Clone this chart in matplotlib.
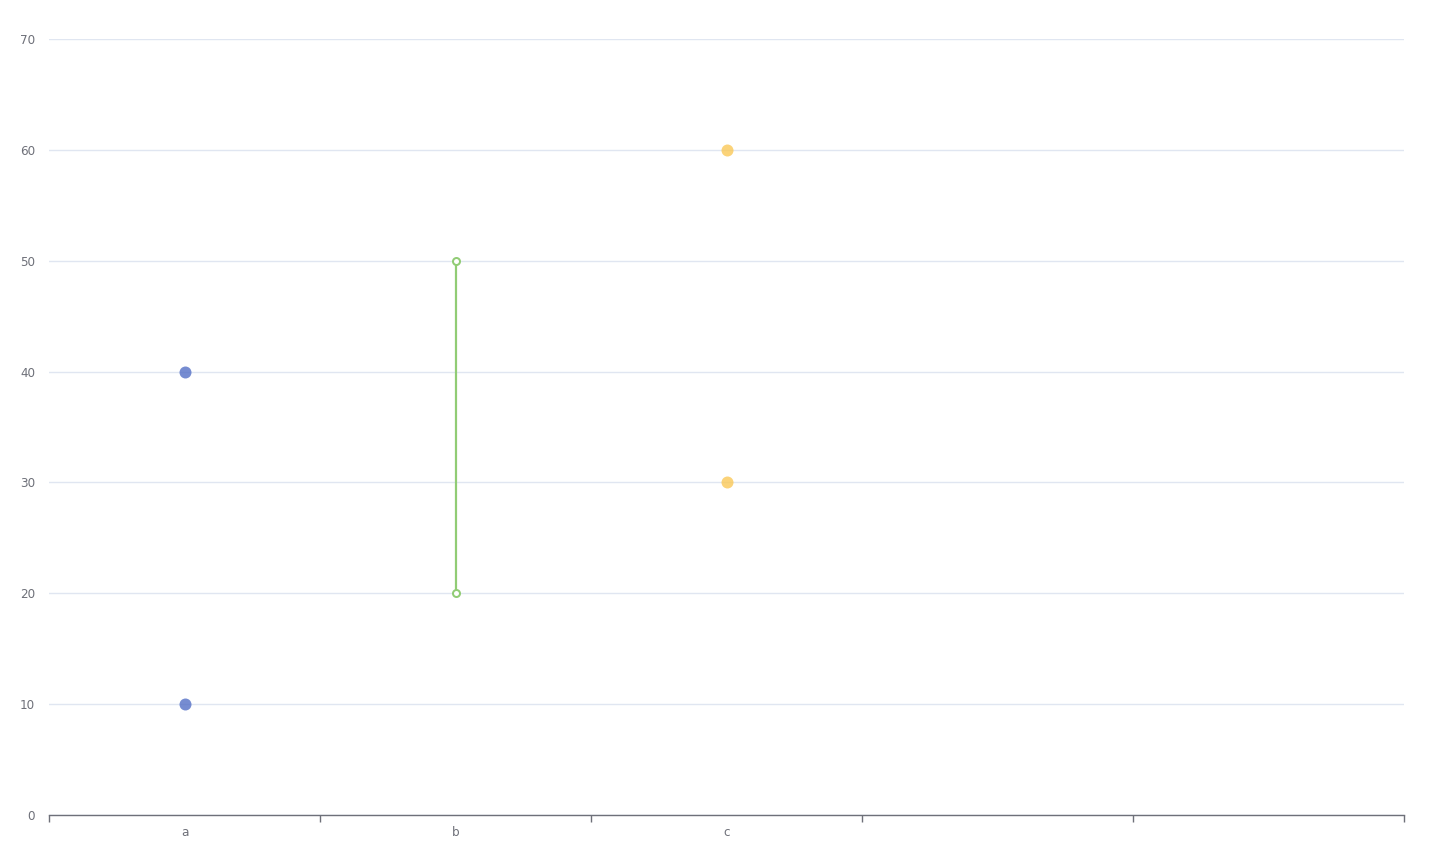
import matplotlib
matplotlib.use("Agg")
import matplotlib.pyplot as plt

# category axis (two trailing empty slots in the reference)
categories = ["a", "b", "c", "", ""]

# series a: scatter points
a_x = ["a", "a"]
a_y = [10, 40]

# series b: vertical line with hollow end markers
b_x = ["b", "b"]
b_y = [20, 50]

# series c: scatter points
c_x = ["c", "c"]
c_y = [30, 60]

y_ticks = [0, 10, 20, 30, 40, 50, 60, 70]

AXIS_COLOR = "#6E7079"
GRID_COLOR = "#E0E6F1"
PX = 0.72  # points per pixel at dpi=100

fig = plt.figure(figsize=(14.38, 8.63), dpi=100)
ax = fig.add_axes([49 / 1438, 48 / 863, (1404 - 49) / 1438, (815 - 39) / 863])

idx = {c: i for i, c in enumerate(categories)}

ax.scatter([idx[c] for c in a_x], a_y, s=(12 * PX) ** 2, color="#5470c6",
           alpha=0.8, zorder=3, linewidths=0)
ax.plot([idx[c] for c in b_x], b_y, color="#91cc75", lw=2.2 * PX,
        marker="o", ms=7 * PX, mfc="white", mec="#91cc75", mew=2 * PX, zorder=3)
ax.scatter([idx[c] for c in c_x], c_y, s=(12 * PX) ** 2, color="#fac858",
           alpha=0.8, zorder=3, linewidths=0)

ax.set_xlim(-0.5, len(categories) - 0.5)
ax.set_ylim(0, 70)

ax.set_yticks(y_ticks)
ax.set_yticklabels([str(v) for v in y_ticks])
ax.yaxis.grid(True, color=GRID_COLOR, lw=1)
ax.set_axisbelow(True)

# band boundary ticks, labels centred in bands
ax.set_xticks([i - 0.5 for i in range(len(categories) + 1)])
ax.set_xticklabels([])
ax.set_xticks(range(len(categories)), minor=True)
ax.set_xticklabels(categories, minor=True)
ax.tick_params(axis="x", which="major", length=5, color=AXIS_COLOR, width=1)
ax.tick_params(axis="x", which="minor", length=0, pad=8, labelsize=12 * PX,
               labelcolor=AXIS_COLOR)
ax.tick_params(axis="y", length=0, pad=10, labelsize=12 * PX,
               labelcolor=AXIS_COLOR)

for side in ["top", "right", "left"]:
    ax.spines[side].set_visible(False)
ax.spines["bottom"].set_color(AXIS_COLOR)
ax.spines["bottom"].set_linewidth(1)
ax.spines["bottom"].set_zorder(4)

fig.savefig("out.png", dpi=100)
